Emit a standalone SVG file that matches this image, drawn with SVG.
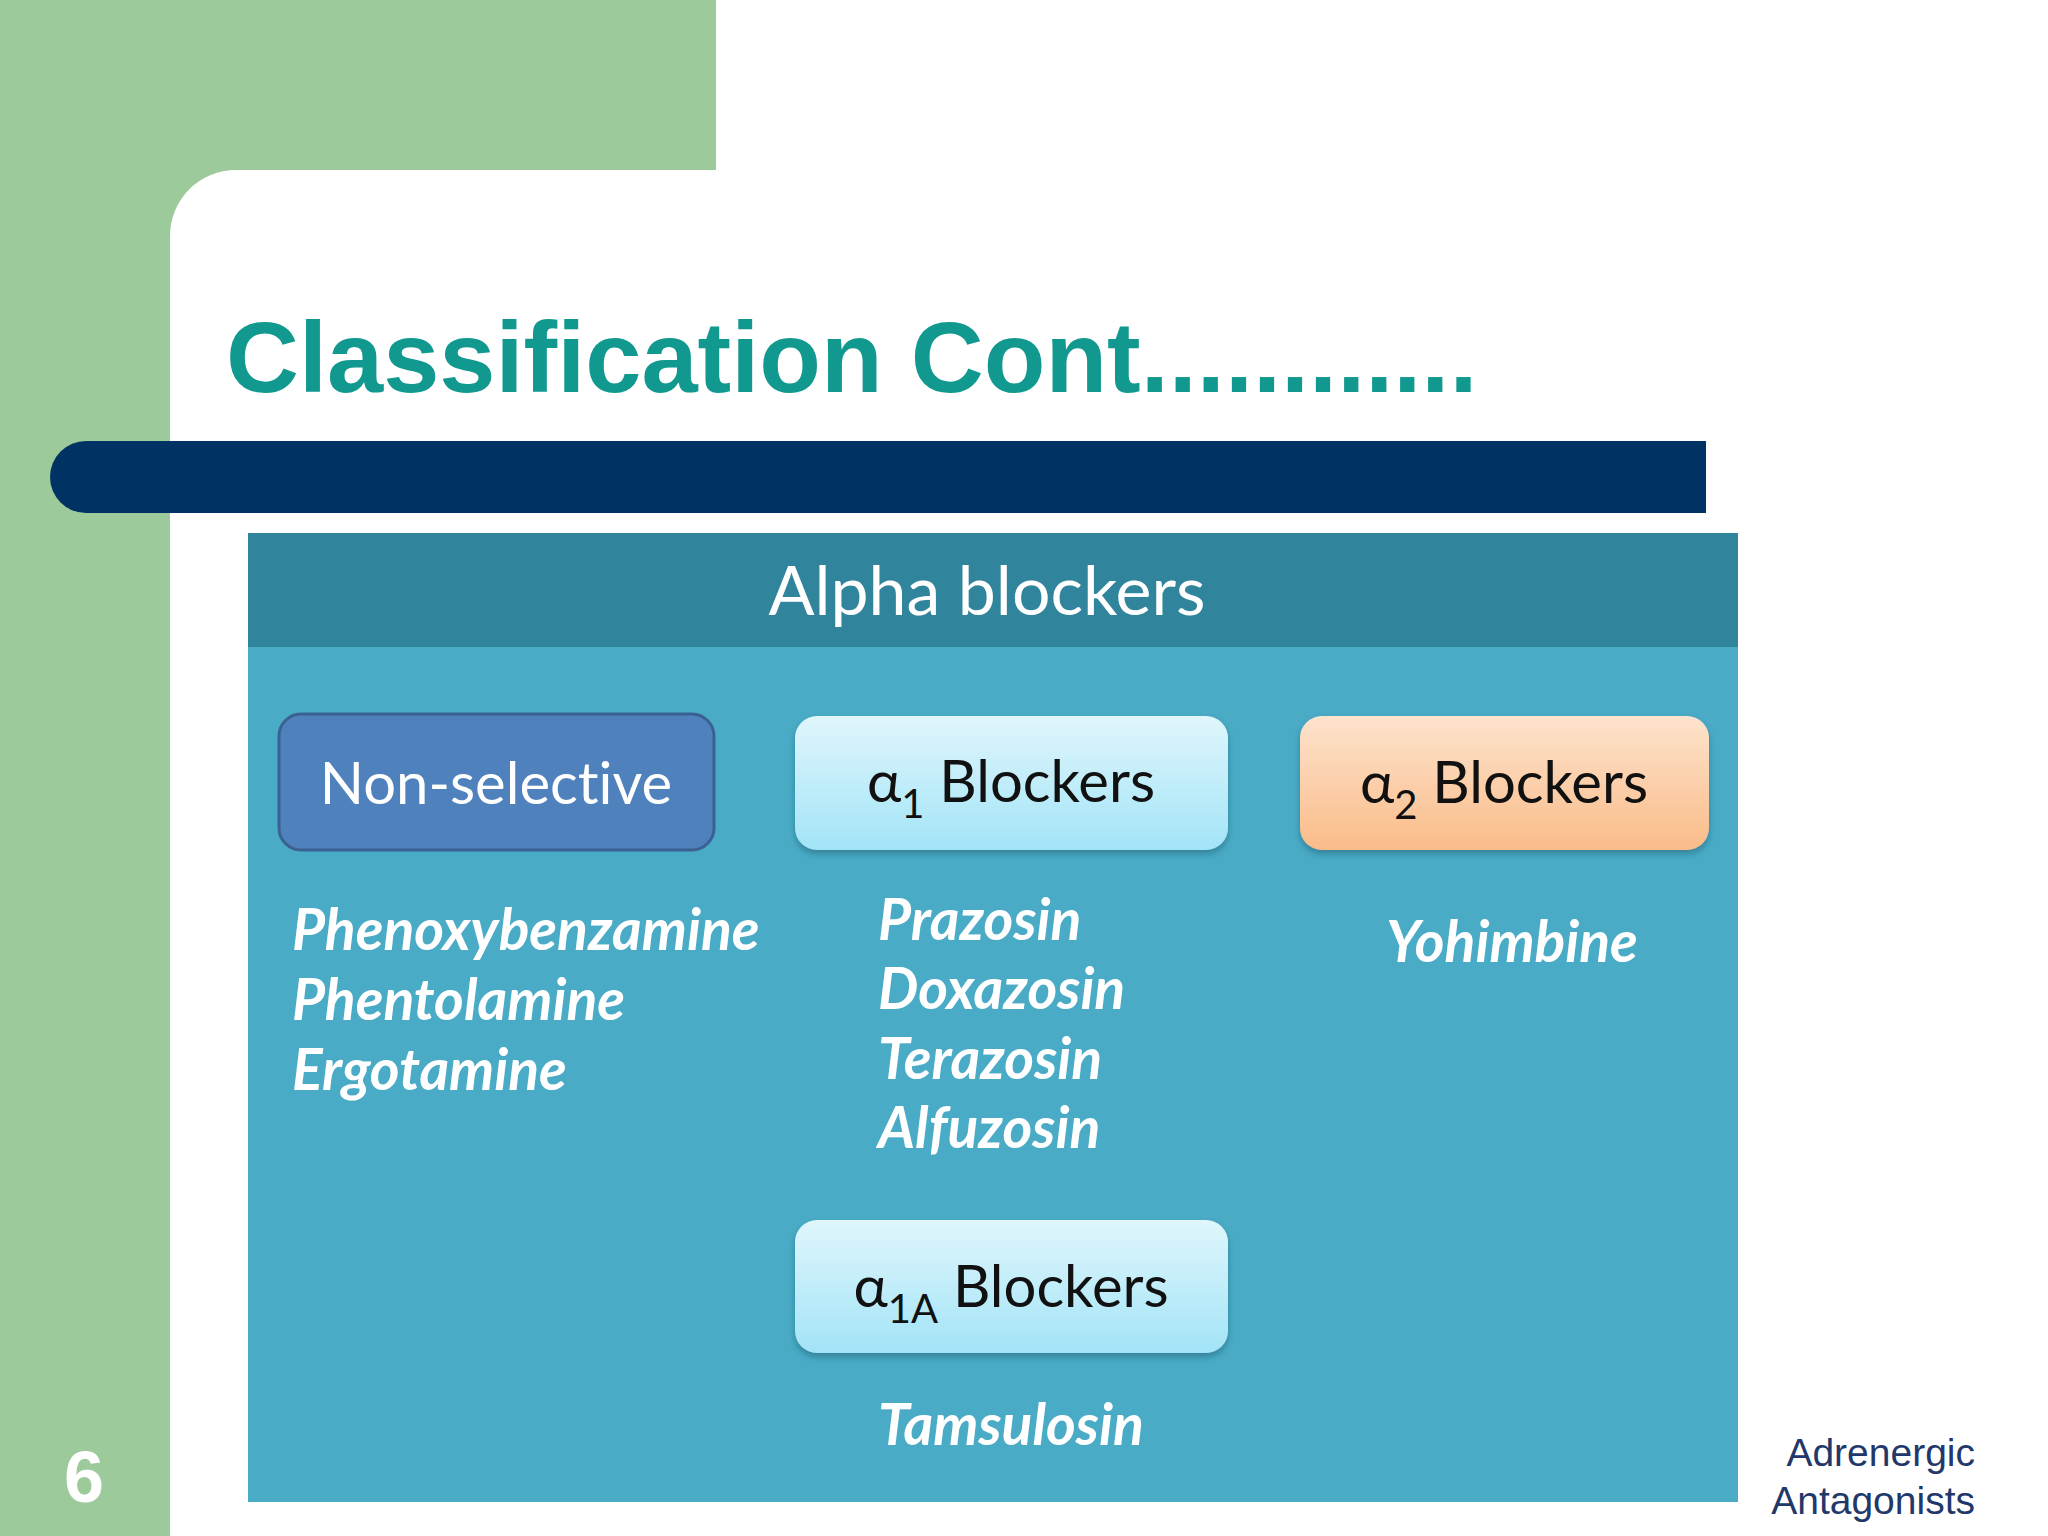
<svg xmlns="http://www.w3.org/2000/svg" width="2048" height="1536" viewBox="0 0 2048 1536">
  <defs>
    <linearGradient id="gCyan" x1="0" y1="0" x2="0" y2="1">
      <stop offset="0" stop-color="#E0F6FC"/>
      <stop offset="1" stop-color="#A2E4F7"/>
    </linearGradient>
    <linearGradient id="gPeach" x1="0" y1="0" x2="0" y2="1">
      <stop offset="0" stop-color="#FDE3CD"/>
      <stop offset="1" stop-color="#FABC89"/>
    </linearGradient>
    <filter id="shadow" x="-10%" y="-10%" width="120%" height="130%">
      <feDropShadow dx="0" dy="4" stdDeviation="3" flood-color="#1B4F63" flood-opacity="0.45"/>
    </filter>
  </defs>
  <style>
    text { font-variant-ligatures: none; }
    .box-text { font-family: Lato, "Open Sans", "DejaVu Sans", sans-serif; font-size: 58px; }
    .drug { font-family: Lato, "Open Sans", "DejaVu Sans", sans-serif; font-size: 57px; font-weight: bold; font-style: italic; fill: #FFFFFF; }
  </style>

  <rect x="0" y="0" width="2048" height="1536" fill="#FFFFFF"/>

  <!-- green frame -->
  <g id="frame">
    <rect x="0" y="0" width="716" height="170" fill="#9DCA9A"/>
    <rect x="0" y="0" width="170" height="1536" fill="#9DCA9A"/>
    <path d="M170,170 L236,170 A66,66 0 0 0 170,236 Z" fill="#9DCA9A"/>
  </g>

  <!-- title -->
  <g id="title">
    <text x="226" y="392" font-family="'Liberation Sans', Arial, sans-serif" font-size="101" font-weight="bold" fill="#12998F">Classification Cont............</text>
  </g>

  <!-- navy bar -->
  <g id="bar">
    <path d="M86,441 L1706,441 L1706,513 L86,513 A36,36 0 0 1 86,441 Z" fill="#013264"/>
  </g>

  <!-- main container -->
  <g id="alpha-blockers">
    <rect x="248" y="533" width="1490" height="969" fill="#4AABC6"/>
    <rect x="248" y="533" width="1490" height="114" fill="#30849B"/>
    <text x="987" y="615" text-anchor="middle" font-family="Lato, 'Open Sans', sans-serif" font-size="68" fill="#FFFFFF">Alpha blockers</text>
  </g>

  <g id="non-selective">
    <rect x="279" y="714" width="435" height="136" rx="22" fill="#4F81BD" stroke="#3B6193" stroke-width="3"/>
    <text x="496" y="804" text-anchor="middle" class="box-text" font-size="60" fill="#FFFFFF">Non-selective</text>
  </g>

  <g id="alpha1">
    <rect x="795" y="716" width="433" height="134" rx="22" fill="url(#gCyan)" filter="url(#shadow)"/>
    <text x="1011" y="802" text-anchor="middle" class="box-text" fill="#111111">α<tspan font-size="40" dy="16">1</tspan><tspan dy="-16"> Blockers</tspan></text>
  </g>

  <g id="alpha2">
    <rect x="1300" y="716" width="409" height="134" rx="22" fill="url(#gPeach)" filter="url(#shadow)"/>
    <text x="1504" y="803" text-anchor="middle" class="box-text" fill="#111111">α<tspan font-size="40" dy="16">2</tspan><tspan dy="-16"> Blockers</tspan></text>
  </g>

  <g id="alpha1A">
    <rect x="795" y="1220" width="433" height="133" rx="22" fill="url(#gCyan)" filter="url(#shadow)"/>
    <text x="1011" y="1307" text-anchor="middle" class="box-text" fill="#111111">α<tspan font-size="40" dy="16">1A</tspan><tspan dy="-16"> Blockers</tspan></text>
  </g>

  <g id="non-selective-drugs">
    <text x="292" y="950" class="drug">Phenoxybenzamine</text>
    <text x="292" y="1020" class="drug">Phentolamine</text>
    <text x="292" y="1090" class="drug">Ergotamine</text>
  </g>

  <g id="alpha1-drugs">
    <text x="878" y="940" class="drug">Prazosin</text>
    <text x="878" y="1009" class="drug">Doxazosin</text>
    <text x="878" y="1079" class="drug">Terazosin</text>
    <text x="878" y="1148" class="drug">Alfuzosin</text>
  </g>

  <g id="alpha2-drugs">
    <text x="1386" y="962" class="drug">Yohimbine</text>
  </g>

  <g id="alpha1A-drugs">
    <text x="878" y="1445" class="drug">Tamsulosin</text>
  </g>

  <g id="connectors"></g>

  <g id="footer">
    <text x="84" y="1502" text-anchor="middle" font-family="'Liberation Sans', Arial, sans-serif" font-size="72" font-weight="bold" fill="#FFFFFF">6</text>
    <text x="1975" y="1466" text-anchor="end" font-family="'Liberation Sans', Arial, sans-serif" font-size="39" fill="#22386A">Adrenergic</text>
    <text x="1975" y="1514" text-anchor="end" font-family="'Liberation Sans', Arial, sans-serif" font-size="39" fill="#22386A">Antagonists</text>
  </g>
</svg>
